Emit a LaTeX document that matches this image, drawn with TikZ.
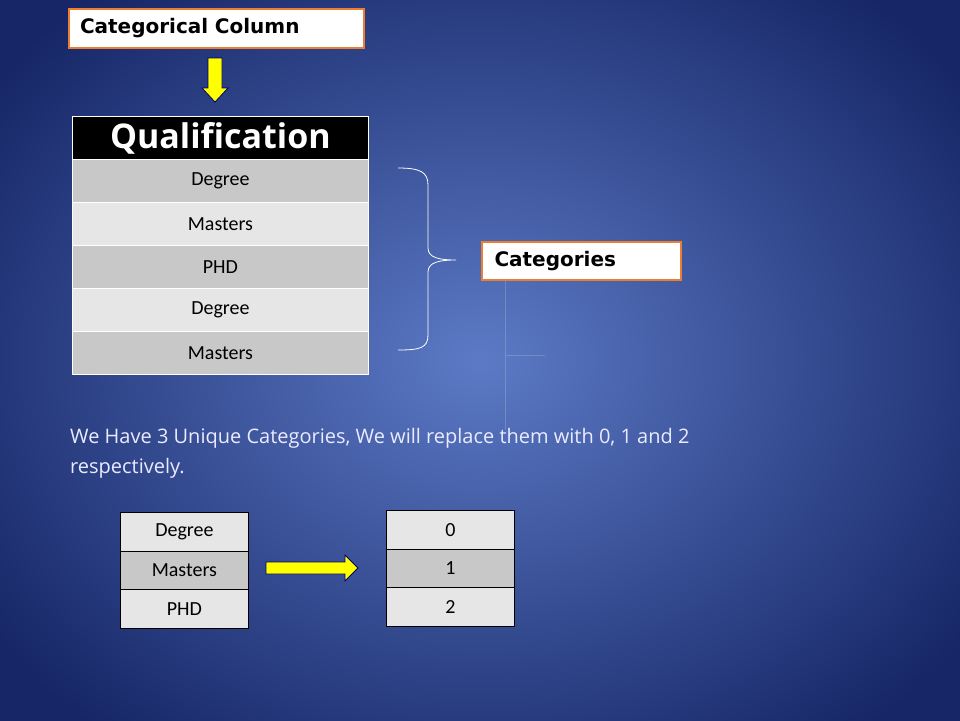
\documentclass[tikz,border=0pt]{standalone}
\usepackage{fontspec}
\setmainfont{Carlito}
\newfontfamily\osans{Open Sans}
\newfontfamily\dvs{DejaVu Sans}
\definecolor{bgin}{RGB}{92,122,198}
\definecolor{bgout}{RGB}{22,38,102}
\definecolor{dg}{RGB}{200,200,200}
\definecolor{lg}{RGB}{230,230,230}
\definecolor{org}{RGB}{237,125,49}
\definecolor{yel}{RGB}{255,255,0}
\begin{document}
\begin{tikzpicture}[x=1pt,y=-1pt,
 cell/.style={draw=white,line width=0.8pt,minimum width=296pt,minimum height=43pt,inner sep=0pt,font=\fontsize{20}{24}\selectfont,anchor=north west},
 scell/.style={draw=black,line width=0.8pt,minimum width=128pt,minimum height=38.5pt,inner sep=0pt,font=\fontsize{20}{24}\selectfont,anchor=north west},
 label/.style={draw=org,line width=2pt,fill=white,inner sep=0pt,anchor=north west,font=\dvs\bfseries\fontsize{20}{24}\selectfont,align=left,text=black},
 yarrow/.style={fill=yel,draw=black!60!blue,line width=0.8pt}]
\useasboundingbox (0,0) rectangle (960,720);
\shade[inner color=bgin,outer color=bgout] (-120,-120) rectangle (1080,840);
% top label
\node[label,minimum width=295pt,minimum height=39pt,text width=285pt] (cc) at (68,8) {\hspace*{6pt}Categorical Column};
\draw[yarrow] (208,58) -- (222,58) -- (222,88) -- (228,88) -- (215,102) -- (202,88) -- (208,88) -- cycle;
% table
\node[cell,fill=black,text=white,font=\osans\bfseries\fontsize{34}{40}\selectfont] (h) at (72,116) {Qualification};
\node[cell,fill=dg] (r1) at (72,159) {Degree};
\node[cell,fill=lg] (r2) at (72,202) {Masters};
\node[cell,fill=dg] (r3) at (72,245) {PHD};
\node[cell,fill=lg] (r4) at (72,288) {Degree};
\node[cell,fill=dg] (r5) at (72,331) {Masters};
% brace
\draw[white,line width=0.8pt] (398,168) .. controls (420,168) and (428,172) .. (428,185) -- (428,248) .. controls (428,258) and (440,260) .. (456,260) .. controls (440,260) and (428,262) .. (428,272) -- (428,335) .. controls (428,348) and (420,350) .. (398,350);
% faint lines
\draw[white,opacity=0.18,line width=0.8pt] (505,280) -- (505,430) (505,355) -- (545,355);
\node[label,minimum width=199pt,minimum height=38pt,text width=190pt] (cat) at (481,241) {\hspace*{8pt}Categories};
% text
\node[anchor=north west,text=white!92!blue,font=\osans\fontsize{20}{30}\selectfont,align=left,inner sep=0pt] (txt) at (70,428) {We Have 3 Unique Categories, We will replace them with 0, 1 and 2\\respectively.};
% small tables
\node[scell,fill=lg] (a1) at (120,512) {Degree};
\node[scell,fill=dg] (a2) at (120,550.5) {Masters};
\node[scell,fill=lg] (a3) at (120,589) {PHD};
\node[scell,fill=lg] (b1) at (386,510) {0};
\node[scell,fill=dg] (b2) at (386,548.5) {1};
\node[scell,fill=lg] (b3) at (386,587) {2};
\draw[yarrow] (266,562) -- (345,562) -- (345,555) -- (358,568) -- (345,581) -- (345,574) -- (266,574) -- cycle;
\end{tikzpicture}
\end{document}
